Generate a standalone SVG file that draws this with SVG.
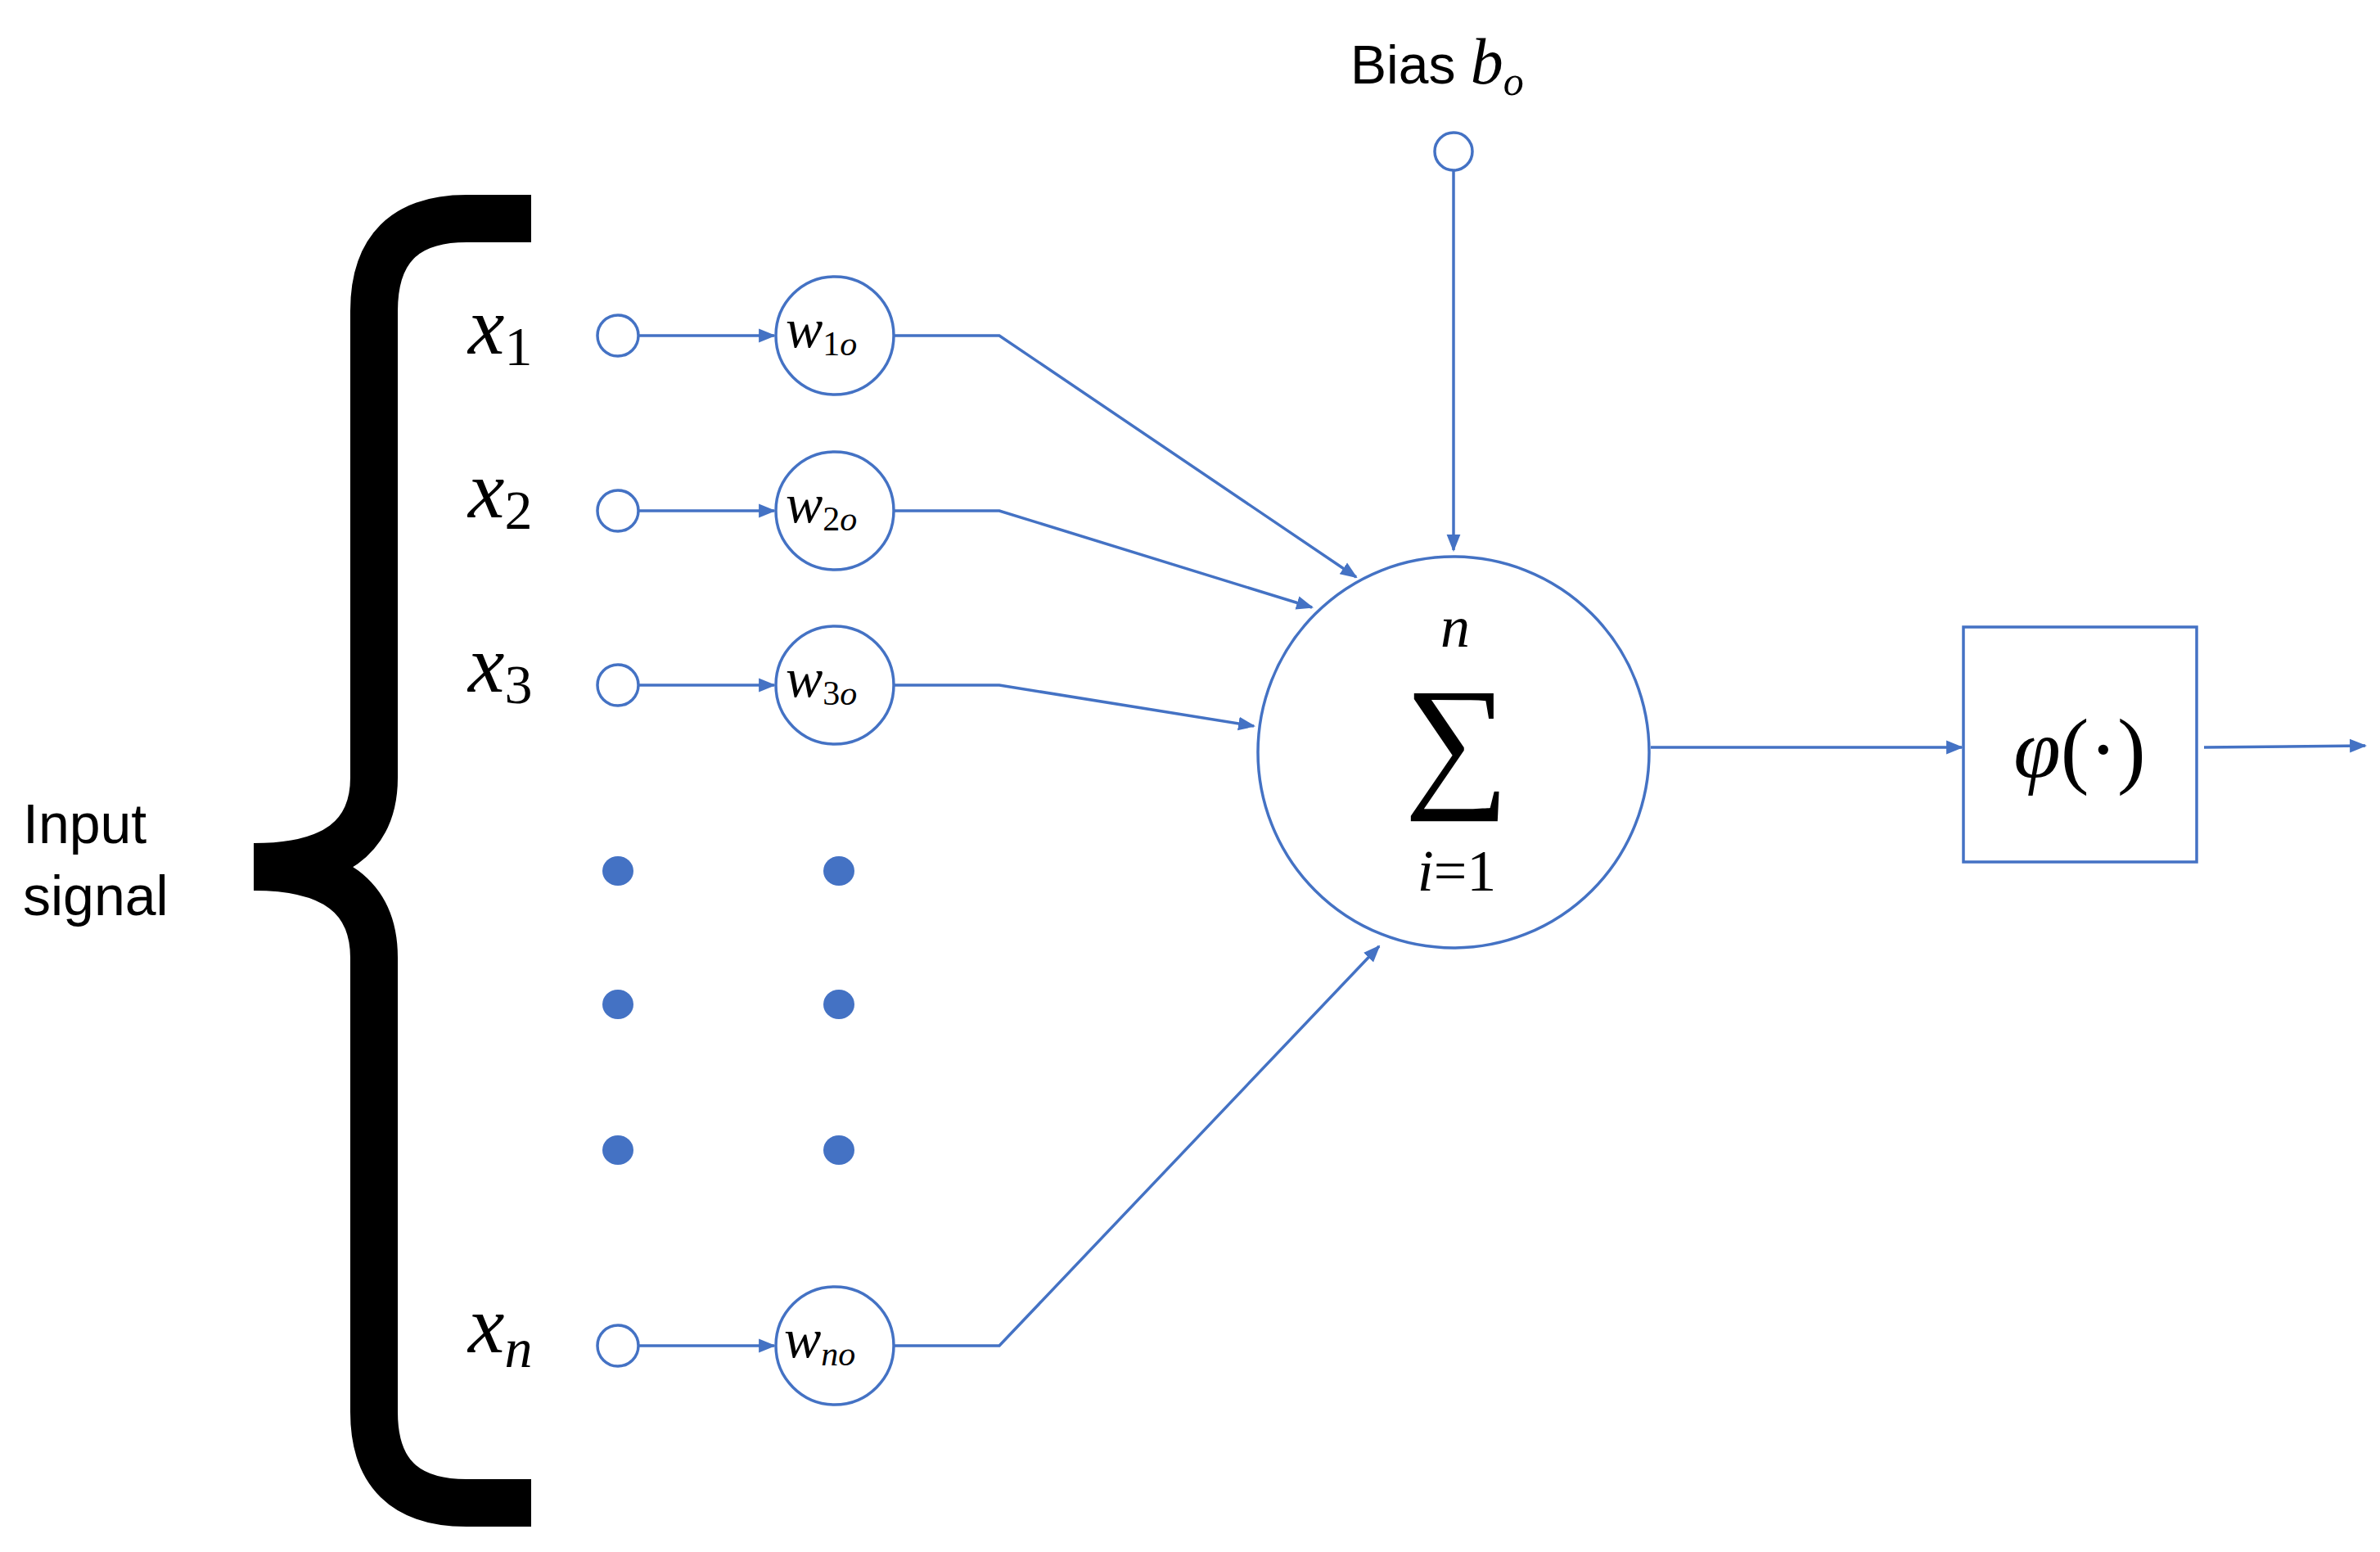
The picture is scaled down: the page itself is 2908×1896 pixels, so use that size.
<svg xmlns="http://www.w3.org/2000/svg" width="2908" height="1896" viewBox="0 0 2908 1896">
<style>
.ln{fill:none;stroke:#4472C4;stroke-width:3.5}
.nd{fill:#fff;stroke:#4472C4;stroke-width:3.5}
.dot{fill:#4472C4}
.m{font-family:"Liberation Serif",serif;font-style:italic;fill:#000}
.r{font-family:"Liberation Serif",serif;fill:#000}
.s{font-family:"Liberation Sans",Arial,sans-serif;fill:#000}
</style>
<defs>
<marker id="a" viewBox="0 0 10 10" refX="9" refY="5" markerWidth="6" markerHeight="6" orient="auto"><path d="M0,1 L10,5 L0,9 z" fill="#4472C4"/></marker>
</defs>
<g id="brace"><path d="M649,267 H570 Q457,267 457,380 V950 Q457,1059 310,1059 Q457,1059 457,1170 V1725 Q457,1836 570,1836 H649" fill="none" stroke="#000" stroke-width="58"/></g>
<g id="input-label"><text class="s" x="28" y="1030" font-size="68">Input</text><text class="s" x="28" y="1118" font-size="68">signal</text></g>
<g id="connectors">
<line class="ln" x1="780" y1="410" x2="946" y2="410" marker-end="url(#a)"/>
<line class="ln" x1="780" y1="624" x2="946" y2="624" marker-end="url(#a)"/>
<line class="ln" x1="780" y1="837" x2="946" y2="837" marker-end="url(#a)"/>
<line class="ln" x1="780" y1="1644" x2="946" y2="1644" marker-end="url(#a)"/>
<polyline class="ln" points="1092,410 1221,410 1657,705" marker-end="url(#a)"/>
<polyline class="ln" points="1092,624 1221,624 1603,742" marker-end="url(#a)"/>
<polyline class="ln" points="1092,837 1221,837 1532,887" marker-end="url(#a)"/>
<polyline class="ln" points="1092,1644 1221,1644 1685,1156" marker-end="url(#a)"/>
<line class="ln" x1="1776" y1="208" x2="1776" y2="672" marker-end="url(#a)"/>
<line class="ln" x1="2017" y1="913" x2="2397" y2="913" marker-end="url(#a)"/>
<line class="ln" x1="2693" y1="913" x2="2890" y2="911" marker-end="url(#a)"/>
</g>
<g id="x1"><circle class="nd" cx="755" cy="410" r="25"/><text class="m" x="572" y="432" font-size="100">x<tspan class="r" font-style="normal" font-size="68" dy="14">1</tspan></text></g>
<g id="x2"><circle class="nd" cx="755" cy="624" r="25"/><text class="m" x="572" y="632" font-size="100">x<tspan class="r" font-style="normal" font-size="68" dy="14">2</tspan></text></g>
<g id="x3"><circle class="nd" cx="755" cy="837" r="25"/><text class="m" x="572" y="845" font-size="100">x<tspan class="r" font-style="normal" font-size="68" dy="14">3</tspan></text></g>
<g id="xn"><circle class="nd" cx="755" cy="1644" r="25"/><text class="m" x="572" y="1652" font-size="100">x<tspan font-size="68" dy="18">n</tspan></text></g>
<g id="w1"><circle class="nd" cx="1020" cy="410" r="72"/><text class="m" x="960" y="424" font-size="68">w<tspan font-size="42" dy="10"><tspan class="r" font-style="normal">1</tspan>o</tspan></text></g>
<g id="w2"><circle class="nd" cx="1020" cy="624" r="72"/><text class="m" x="960" y="638" font-size="68">w<tspan font-size="42" dy="10"><tspan class="r" font-style="normal">2</tspan>o</tspan></text></g>
<g id="w3"><circle class="nd" cx="1020" cy="837" r="72"/><text class="m" x="960" y="851" font-size="68">w<tspan font-size="42" dy="10"><tspan class="r" font-style="normal">3</tspan>o</tspan></text></g>
<g id="wn"><circle class="nd" cx="1020" cy="1644" r="72"/><text class="m" x="958" y="1658" font-size="68">w<tspan font-size="42" dy="10">no</tspan></text></g>
<g id="dots">
<ellipse class="dot" cx="755" cy="1064" rx="19" ry="18"/><ellipse class="dot" cx="1025" cy="1064" rx="19" ry="18"/>
<ellipse class="dot" cx="755" cy="1227" rx="19" ry="18"/><ellipse class="dot" cx="1025" cy="1227" rx="19" ry="18"/>
<ellipse class="dot" cx="755" cy="1405" rx="19" ry="18"/><ellipse class="dot" cx="1025" cy="1405" rx="19" ry="18"/>
</g>
<g id="bias"><circle class="nd" cx="1776" cy="185" r="23"/><text class="s" x="1650" y="102" font-size="66">Bias <tspan class="m" font-size="80">b</tspan><tspan class="m" font-size="50" dy="14">o</tspan></text></g>
<g id="sum"><circle class="nd" cx="1776" cy="919" r="239"/>
<text class="m" x="1778" y="790" font-size="72" text-anchor="middle">n</text>
<text class="r" x="1780" y="965" font-size="180" text-anchor="middle">∑</text>
<text class="m" x="1780" y="1088" font-size="72" text-anchor="middle">i<tspan class="r" font-style="normal">=1</tspan></text></g>
<g id="phi"><rect class="nd" x="2399" y="766" width="285" height="287"/><text class="r" x="2541" y="950" font-size="104" text-anchor="middle"><tspan font-style="italic">φ</tspan>(·)</text></g>
</svg>
